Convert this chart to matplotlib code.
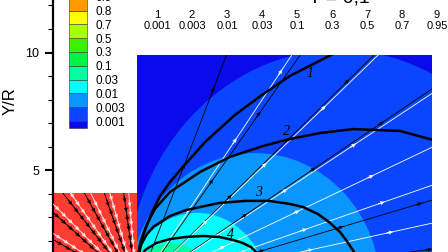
import numpy as np
import matplotlib.pyplot as plt
from matplotlib.patches import Rectangle, Ellipse

plt.rcParams['font.family'] = ['Liberation Sans', 'DejaVu Sans']

# legend: level boundaries (bottom to top) and the colour of each band
levels = ['0.001', '0.003', '0.01', '0.03', '0.1', '0.3', '0.5', '0.7', '0.8', '0.9']
band_colors = ['#0A0AEB', '#0A46FF', '#0A96FF', '#00FFFF', '#00FFA0',
               '#00F546', '#3CF000', '#AAFF00', '#FFFF00', '#FF9900']
source_color = '#FF3C32'

# table of isoline numbers / values at the top
line_ids = ['1', '2', '3', '4', '5', '6', '7', '8', '9']
line_vals = ['0.001', '0.003', '0.01', '0.03', '0.1', '0.3', '0.5', '0.7', '0.95']

# flooded regions (band index, centre X, half width, half height), centred on Y = 0
fill_band = [1, 2, 3, 4]
fill_cx = [8.58, 5.01, 2.55, 1.44]
fill_a = [9.05, 5.33, 2.95, 1.74]
fill_b = [10.11, 5.73, 3.19, 1.91]

# isolines
c1_x = [0.0, 0.13, 0.34, 0.64, 0.98, 1.40, 1.83, 2.89, 4.16, 5.31, 6.50, 8.33, 9.47]
c1_y = [1.10, 1.83, 2.46, 3.23, 3.91, 4.50, 5.01, 6.20, 7.35, 8.20, 9.01, 9.94, 10.45]
c2_x = [0.0, 0.17, 0.42, 0.76, 1.40, 2.68, 3.95, 5.35, 6.50, 7.77, 9.18, 11.17, 12.57]
c2_y = [1.27, 2.04, 2.72, 3.36, 4.08, 4.93, 5.57, 6.03, 6.33, 6.58, 6.75, 6.67, 6.29]
c3_x = [0.0, 0.17, 0.42, 0.68, 1.40, 2.08, 3.48, 4.59, 5.61, 6.50, 7.05, 7.69, 8.16, 8.62, 8.88, 9.22, 9.47]
c3_y = [1.10, 1.83, 2.29, 2.59, 3.06, 3.31, 3.61, 3.70, 3.70, 3.57, 3.44, 3.14, 2.80, 2.38, 2.04, 1.53, 0.85]
c4_x = [0.0, 0.34, 0.81, 1.40, 2.08, 2.80, 3.48, 4.08, 4.50, 4.84, 5.06, 5.31]
c4_y = [1.10, 1.61, 1.91, 2.08, 2.17, 2.21, 2.17, 2.04, 1.91, 1.74, 1.53, 1.02]
curves = [(c1_x, c1_y), (c2_x, c2_y), (c3_x, c3_y), (c4_x, c4_y)]
label_x = [7.35, 6.36, 5.14, 3.95]
label_y = [9.13, 6.64, 4.04, 2.29]

# streamline directions (degrees) from the origin
blue_black = [69, 55, 44.5, 34, 16.6, 7.5]
blue_white = [56.4, 44, 33.4, 25.5, 19.2, 12.4]
red_black = [98, 109, 119, 128, 138, 150]
red_white = [95, 106, 116, 125, 135, 147]

x_dom, y_dom = 12.53, 9.9
x_src, y_src = -3.57, 4.04

fig = plt.figure(figsize=(4.48, 2.52), dpi=100)
ax = fig.add_axes([53 / 448, 0, 395 / 448, 1])
ax.set_xlim(x_src, 13.21)
ax.set_ylim(1.53, 12.23)

dom = Rectangle((0, 0), x_dom, y_dom, facecolor=band_colors[0], edgecolor='none', zorder=1)
ax.add_patch(dom)
src = Rectangle((x_src, 0), -x_src, y_src, facecolor=source_color, edgecolor='none', zorder=1)
ax.add_patch(src)

for k in range(len(fill_band)):
    e = Ellipse((fill_cx[k], 0), 2 * fill_a[k], 2 * fill_b[k],
                facecolor=band_colors[fill_band[k]], edgecolor='none', zorder=2 + k)
    ax.add_patch(e)
    e.set_clip_path(dom)


def rays(angles, color, clip, r_arrows, inward=False):
    for ang in angles:
        t = np.radians(ang)
        c, s = np.cos(t), np.sin(t)
        ln, = ax.plot([0, 25 * c], [0, 25 * s], color=color, lw=0.6, zorder=7)
        ln.set_clip_path(clip)
        r = np.array(r_arrows)
        px, py = r * c, r * s
        ok = (px >= x_src + 0.1) & (px <= x_dom) & (py <= (y_src if inward else y_dom) - 0.1) & (py > 1.2)
        sgn = -1 if inward else 1
        if ok.any():
            ax.quiver(px[ok], py[ok], sgn * 0.3 * c * np.ones(ok.sum()), sgn * 0.3 * s * np.ones(ok.sum()),
                      color=color, angles='xy', scale_units='xy', scale=1, pivot='mid',
                      width=0.003, headwidth=3.5, headlength=4, headaxislength=3.6, zorder=8)


rays(blue_black, 'black', dom, [5.5, 9, 12.5])
rays(blue_white, 'white', dom, [4, 7.5, 11])
rays(red_black, 'black', src, np.arange(1.0, 6.0, 0.4), inward=True)
rays(red_white, '#FFE6E6', src, np.arange(1.2, 6.0, 0.4), inward=True)

for (cx, cy) in curves:
    ln, = ax.plot(cx, cy, color='black', lw=1.8, zorder=9, solid_joinstyle='round')
    ln.set_clip_path(dom)
for k in range(len(label_x)):
    ax.text(label_x[k], label_y[k], str(k + 1), fontsize=10, style='italic', family='Liberation Serif',
            ha='center', va='center', zorder=10)

for sp in ['top', 'right', 'bottom']:
    ax.spines[sp].set_visible(False)
ax.spines['left'].set_linewidth(1.6)
ax.set_xticks([])
ax.set_yticks([5, 10])
ax.set_yticks(range(2, 13), minor=True)
ax.tick_params(axis='y', which='major', direction='out', length=6, width=1.5, labelsize=9, pad=4)
ax.tick_params(axis='y', which='minor', direction='out', length=3.5, width=0.8)

# overlay in pixel units for the legend and the text
ov = fig.add_axes([0, 0, 1, 1])
ov.set_xlim(0, 448)
ov.set_ylim(252, 0)
ov.axis('off')

ov.text(10, 101, 'Y/R', rotation=90, fontsize=12, ha='center', va='center')

step = 13.8
y0 = 121
ov.add_patch(Rectangle((69, y0), 18, step / 2, facecolor=band_colors[0], edgecolor='#333333', lw=0.4))
for i in range(1, len(band_colors)):
    ov.add_patch(Rectangle((69, y0 - i * step), 18, step, facecolor=band_colors[i],
                           edgecolor='#333333', lw=0.4))
for i, lab in enumerate(levels):
    ov.text(96, y0 - i * step + 1.5, lab, fontsize=8.5, ha='left', va='center')

for i in range(len(line_ids)):
    xc = 157 + i * 35
    ov.text(xc, 14.8, line_ids[i], fontsize=8, ha='center', va='center')
    ov.text(xc, 26.2, line_vals[i], fontsize=8, ha='center', va='center')
ov.text(309, 2.7, 'T = 0,1', fontsize=14, ha='left', va='baseline')

fig.savefig('out.png', dpi=100)
